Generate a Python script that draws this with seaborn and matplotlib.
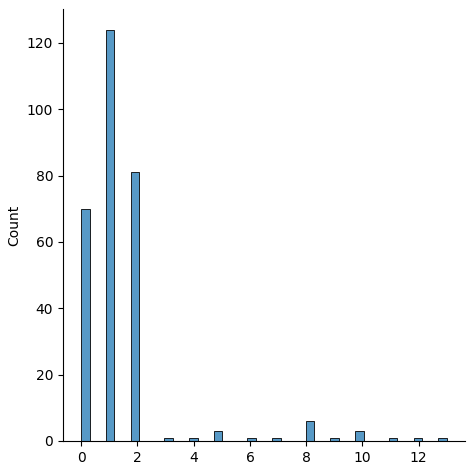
import numpy as np
import pandas as pd
import seaborn as sns
import matplotlib
matplotlib.use("Agg")
import matplotlib.pyplot as plt

values = [0, 1, 2, 3, 4, 5, 6, 7, 8, 9, 10, 11, 12, 13]
counts = [70, 124, 81, 1, 1, 3, 1, 1, 6, 1, 3, 1, 1, 1]

data = pd.DataFrame({"x": np.repeat(values, counts)})

DPI = 100
g = sns.displot(data=data, x="x", bins=44, height=474 / DPI)
g.ax.set_xlabel("")
g.figure.set_size_inches(474 / DPI, 474 / DPI)
g.figure.subplots_adjust(left=63 / 474, right=465 / 474, top=1 - 9 / 474, bottom=1 - 441 / 474)
g.figure.savefig("out.png", dpi=DPI)
